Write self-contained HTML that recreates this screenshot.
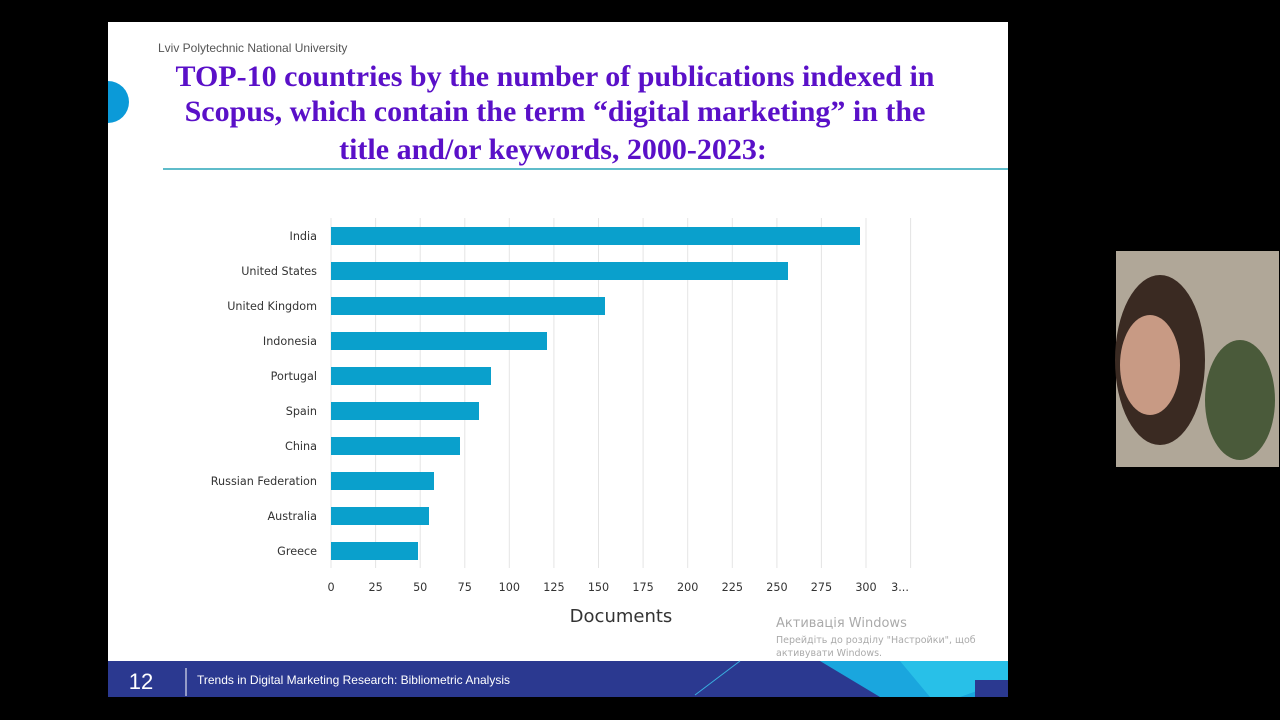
<!DOCTYPE html>
<html><head><meta charset="utf-8"><style>
html,body{margin:0;padding:0;background:#000;width:1280px;height:720px;overflow:hidden}
</style></head><body>
<svg width="1280" height="720" xmlns="http://www.w3.org/2000/svg" style="position:absolute;left:0;top:0">
<rect width="1280" height="720" fill="#000"/>
<rect x="108" y="22" width="900" height="675" fill="#fff"/>
<circle cx="108" cy="102" r="21" fill="#0b9ad8"/>
<rect x="0" y="60" width="108" height="90" fill="#000"/>
<text x="158" y="52" font-family="Liberation Sans, sans-serif" font-size="12" fill="#555">Lviv Polytechnic National University</text>
<g font-family="Liberation Serif, serif" font-weight="bold" font-size="30" fill="#5a10c8" text-anchor="middle">
<text x="555" y="86">TOP-10 countries by the number of publications indexed in</text>
<text x="555" y="121">Scopus, which contain the term “digital marketing” in the</text>
<text x="553" y="159">title and/or keywords, 2000-2023:</text>
</g>
<line x1="163" y1="169" x2="1008" y2="169" stroke="#2aa6b8" stroke-width="1.5"/>
<g stroke="#e4e4e4" stroke-width="1">
<line x1="331" y1="218" x2="331" y2="568"/><line x1="375.6" y1="218" x2="375.6" y2="568"/><line x1="420.2" y1="218" x2="420.2" y2="568"/><line x1="464.8" y1="218" x2="464.8" y2="568"/><line x1="509.3" y1="218" x2="509.3" y2="568"/><line x1="553.9" y1="218" x2="553.9" y2="568"/><line x1="598.5" y1="218" x2="598.5" y2="568"/><line x1="643.1" y1="218" x2="643.1" y2="568"/><line x1="687.7" y1="218" x2="687.7" y2="568"/><line x1="732.3" y1="218" x2="732.3" y2="568"/><line x1="776.9" y1="218" x2="776.9" y2="568"/><line x1="821.4" y1="218" x2="821.4" y2="568"/><line x1="866" y1="218" x2="866" y2="568"/><line x1="910.6" y1="218" x2="910.6" y2="568"/>
</g>
<g fill="#0aa0cc">
<rect x="331" y="227" width="529" height="18"/>
<rect x="331" y="262" width="457" height="18"/>
<rect x="331" y="297" width="274" height="18"/>
<rect x="331" y="332" width="216" height="18"/>
<rect x="331" y="367" width="160" height="18"/>
<rect x="331" y="402" width="148" height="18"/>
<rect x="331" y="437" width="129" height="18"/>
<rect x="331" y="472" width="103" height="18"/>
<rect x="331" y="507" width="98" height="18"/>
<rect x="331" y="542" width="87" height="18"/>
</g>
<g font-family="DejaVu Sans, sans-serif" font-size="11.2" fill="#333" text-anchor="end">
<text x="317" y="240">India</text><text x="317" y="275">United States</text><text x="317" y="310">United Kingdom</text><text x="317" y="345">Indonesia</text><text x="317" y="380">Portugal</text><text x="317" y="415">Spain</text><text x="317" y="450">China</text><text x="317" y="485">Russian Federation</text><text x="317" y="520">Australia</text><text x="317" y="555">Greece</text>
</g>
<g font-family="DejaVu Sans, sans-serif" font-size="11.2" fill="#333" text-anchor="middle">
<text x="331" y="591">0</text><text x="375.6" y="591">25</text><text x="420.2" y="591">50</text><text x="464.8" y="591">75</text><text x="509.3" y="591">100</text><text x="553.9" y="591">125</text><text x="598.5" y="591">150</text><text x="643.1" y="591">175</text><text x="687.7" y="591">200</text><text x="732.3" y="591">225</text><text x="776.9" y="591">250</text><text x="821.4" y="591">275</text><text x="866" y="591">300</text><text x="900" y="591">3...</text>
</g>
<text x="621" y="622" font-family="DejaVu Sans, sans-serif" font-size="18" fill="#333" text-anchor="middle">Documents</text>
<g font-family="DejaVu Sans, sans-serif" fill="#aaa">
<text x="776" y="627" font-size="13">Активація Windows</text>
<text x="776" y="643" font-size="9.5">Перейдіть до розділу "Настройки", щоб</text>
<text x="776" y="656" font-size="9.5">активувати Windows.</text>
</g>
<rect x="108" y="661" width="900" height="36" fill="#2b3990"/>
<polygon points="820,661 1008,661 1008,697 880,697" fill="#1aa6de"/>
<polygon points="900,661 1008,661 1008,680 960,697 930,697" fill="#28c0e8"/>
<rect x="975" y="680" width="33" height="17" fill="#2b3990"/>
<line x1="695" y1="695" x2="740" y2="661" stroke="#3ab0e0" stroke-width="1"/>
<text x="141" y="689" font-family="Liberation Sans, sans-serif" font-size="22" fill="#fff" text-anchor="middle">12</text>
<line x1="186" y1="668" x2="186" y2="696" stroke="#fff" stroke-width="1"/>
<text x="197" y="684" font-family="Liberation Sans, sans-serif" font-size="12" fill="#fff">Trends in Digital Marketing Research: Bibliometric Analysis</text>
<rect x="1116" y="251" width="163" height="216" fill="#8a7f6e"/>
<rect x="1116" y="251" width="163" height="216" fill="#c9c1b4" opacity="0.6"/>
<ellipse cx="1160" cy="360" rx="45" ry="85" fill="#3a2a22"/>
<ellipse cx="1150" cy="365" rx="30" ry="50" fill="#c89a84"/>
<ellipse cx="1240" cy="400" rx="35" ry="60" fill="#4a5a3a"/>
</svg>
</body></html>
